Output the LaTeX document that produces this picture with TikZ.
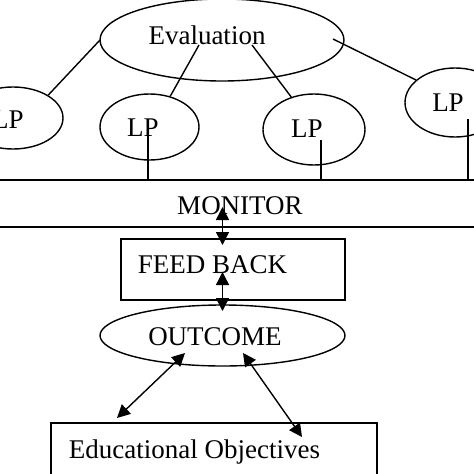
\documentclass[tikz,border=0pt]{standalone}
\usepackage{fontspec}
\setmainfont{Liberation Serif}
\usetikzlibrary{shapes.geometric,arrows.meta}
\begin{document}
\begin{tikzpicture}[x=1pt,y=-1pt,
  line width=1.4pt,
  oval/.style={draw,ellipse,inner sep=0pt},
  lbl/.style={inner sep=0pt,anchor=base,font=\fontsize{27}{30}\selectfont},
  box/.style={draw,rectangle,inner sep=0pt},
  dbl/.style={{Triangle[length=13pt,width=13pt]}-{Triangle[length=13pt,width=13pt]}}]
\fill[white] (0,0) rectangle (474,474);
\clip (0,0) rectangle (474,474);
% ellipses
\node[oval,minimum width=244pt,minimum height=82pt] (eval) at (222,40) {};
\node[oval,minimum width=100pt,minimum height=62pt] (lp1) at (13,118) {};
\node[oval,minimum width=99pt,minimum height=66pt] (lp2) at (149.5,127) {};
\node[oval,minimum width=102pt,minimum height=71pt] (lp3) at (314,129.5) {};
\node[oval,minimum width=100pt,minimum height=69pt] (lp4) at (455,102.5) {};
\node[oval,minimum width=245pt,minimum height=61pt] (outc) at (222.5,335.5) {};
% boxes
\node[box,minimum width=224pt,minimum height=61pt] (fb) at (233,269.5) {};
\node[box,minimum width=326pt,minimum height=90pt] (edu) at (214,468) {};
% labels
\node[lbl] (tEval) at (207,44) {Evaluation};
\node[lbl] (tLP1) at (8,128) {LP};
\node[lbl] (tLP2) at (143,136) {LP};
\node[lbl] (tLP3) at (307,137) {LP};
\node[lbl] (tLP4) at (448,111) {LP};
\node[lbl] (tMon) at (240,214) {MONITOR};
\node[lbl] (tFB) at (212.5,273) {FEED BACK};
\node[lbl] (tOut) at (215,345) {OUTCOME};
\node[lbl] (tEdu) at (194.5,458) {Educational Objectives};
% monitor band
\coordinate (mtl) at (0,180); \coordinate (mtr) at (474,180);
\coordinate (mbl) at (0,227); \coordinate (mbr) at (474,227);
\draw (mtl) -- (mtr);
\draw (mbl) -- (mbr);
% evaluation connectors
\coordinate (e1) at (100,40);
\coordinate (e2) at (199,45);
\coordinate (e3) at (252,45);
\coordinate (e4) at (333,39);
\draw (e1) -- (lp1.33);
\draw (e2) -- (lp2.56);
\draw (e3) -- (lp3.125);
\draw (e4) -- (lp4.150);
% verticals to monitor
\coordinate (v2) at (148,125);
\coordinate (v3) at (321,140);
\coordinate (v4) at (468,119);
\draw (v2) -- (v2 |- mtl);
\draw (v3) -- (v3 |- mtl);
\draw (v4) -- (v4 |- mtl);
% arrows
\coordinate (a1t) at (222.5,207); \coordinate (a1b) at (222.5,245);
\coordinate (a2t) at (222.5,272); \coordinate (a2b) at (222.5,311);
\coordinate (a3t) at (185,353); \coordinate (a3b) at (117,418);
\coordinate (a4t) at (243,353); \coordinate (a4b) at (302,437);
\draw[dbl] (a1t) -- (a1b);
\draw[dbl] (a2t) -- (a2b);
\draw[dbl] (a3t) -- (a3b);
\draw[dbl] (a4t) -- (a4b);
\end{tikzpicture}
\end{document}
